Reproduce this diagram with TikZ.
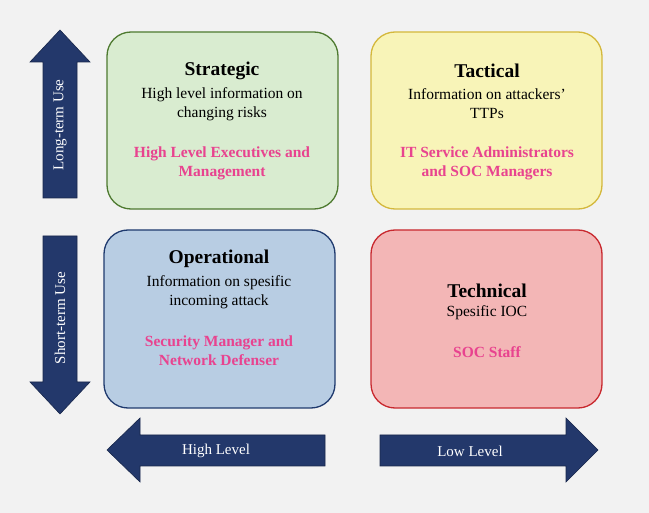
\documentclass[tikz,border=0pt]{standalone}
\usepackage{fontspec}
\setmainfont{Liberation Serif}
\begin{document}
\begin{tikzpicture}[x=1pt,y=-1pt,
  box/.style={rounded corners=24pt,line width=1.3pt},
  ttl/.style={font=\bfseries\fontsize{19.5}{21}\selectfont},
  txt/.style={font=\fontsize{15.5}{19}\selectfont,align=center},
  who/.style={font=\bfseries\fontsize{15.5}{19}\selectfont,align=center,text=magp},
  arr/.style={fill=navy,draw=navy!70!black,line width=0.6pt},
  atxt/.style={text=white,font=\fontsize{15}{16}\selectfont}]
\definecolor{bg}{HTML}{F2F2F2}
\definecolor{navy}{HTML}{23386B}
\definecolor{magp}{HTML}{E8438F}
\fill[bg] (0,0) rectangle (649,513);
\useasboundingbox (0,0) rectangle (649,513);
% boxes
\draw[box,fill={rgb,255:red,217;green,236;blue,208},draw={rgb,255:red,78;green,122;blue,48}] (107,32) rectangle (338,209);
\draw[box,fill={rgb,255:red,248;green,244;blue,184},draw={rgb,255:red,212;green,184;blue,60}] (371,32) rectangle (602,209);
\draw[box,fill={rgb,255:red,184;green,205;blue,227},draw={rgb,255:red,31;green,58;blue,110}] (104,230) rectangle (335,408);
\draw[box,fill={rgb,255:red,243;green,182;blue,182},draw={rgb,255:red,200;green,40;blue,46}] (371,230) rectangle (602,408);
% texts
\node[ttl] (st) at (222,71) {Strategic};
\node[txt] (stt) at (222,104) {High level information on\\changing risks};
\node[who] (stw) at (222,163) {High Level Executives and\\Management};
\node[ttl] (ta) at (487,71) {Tactical};
\node[txt] (tat) at (487,104) {Information on attackers’\\TTPs};
\node[who] (taw) at (487,163) {IT Service Administrators\\and SOC Managers};
\node[ttl] (op) at (219,259) {Operational};
\node[txt] (opt) at (219,292) {Information on spesific\\incoming attack};
\node[who] (opw) at (219,351) {Security Manager and\\Network Defenser};
\node[ttl] (te) at (487,291) {Technical};
\node[txt] (tet) at (487,313) {Spesific IOC};
\node[who] (tew) at (487,352) {SOC Staff};
% arrows
\draw[arr] (43,198) -- (43,62) -- (30,62) -- (60,30) -- (90,62) -- (77,62) -- (77,198) -- cycle;
\node[atxt,rotate=90] (lt) at (60,125) {Long-term Use};
\draw[arr] (43,236) -- (43,382) -- (30,382) -- (60,414) -- (90,382) -- (77,382) -- (77,236) -- cycle;
\node[atxt,rotate=90] (sh) at (60,318) {Short-term Use};
\draw[arr] (325,435) -- (140,435) -- (140,418) -- (107,450) -- (140,482) -- (140,466) -- (325,466) -- cycle;
\node[atxt] (hl) at (216,451) {High Level};
\draw[arr] (380,435) -- (566,435) -- (566,418) -- (598,450) -- (566,482) -- (566,466) -- (380,466) -- cycle;
\node[atxt] (ll) at (470,451) {Low Level};
\end{tikzpicture}
\end{document}
